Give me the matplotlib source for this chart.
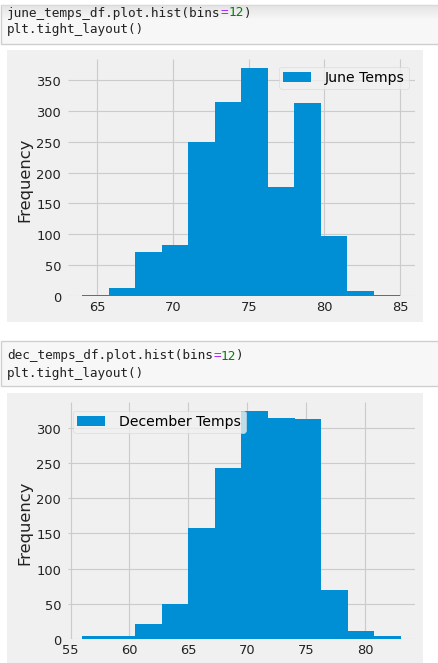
import matplotlib
matplotlib.use("Agg")
import matplotlib.pyplot as plt
from matplotlib.patches import Rectangle
from matplotlib.transforms import ScaledTranslation
import numpy as np

plt.style.use("fivethirtyeight")

W, H = 439, 663

june_start, june_width = 64.0, 1.75
june_counts = [2, 13, 71, 82, 249, 314, 370, 177, 312, 97, 8, 2]
june_ticks = [65, 70, 75, 80, 85]
june_yticks = [0, 50, 100, 150, 200, 250, 300, 350]

dec_start, dec_width = 56.0, 2.25
dec_counts = [4, 4, 22, 50, 158, 243, 323, 313, 312, 70, 12, 4]
dec_ticks = [55, 60, 65, 70, 75, 80]
dec_yticks = [0, 50, 100, 150, 200, 250, 300]

june_code = [[("june_temps_df.plot.hist(bins", "#222222"), ("=", "#aa22ff"), ("12", "#008000"), (")", "#222222")],
             [("plt.tight_layout()", "#222222")]]
dec_code = [[("dec_temps_df.plot.hist(bins", "#222222"), ("=", "#aa22ff"), ("12", "#008000"), (")", "#222222")],
            [("plt.tight_layout()", "#222222")]]

fig = plt.figure(figsize=(W / 100, H / 100), dpi=100, facecolor="white")

bg = fig.add_axes([0, 0, 1, 1])
bg.set_xlim(0, W)
bg.set_ylim(H, 0)
bg.axis("off")
bg.set_facecolor("white")

# notebook cells
for top, bot in [(5, 44), (341, 386)]:
    bg.add_patch(Rectangle((1.5, top), W, bot - top, fc="#f7f7f7", ec="#cfcfcf", lw=1))
# scroll shadow at the top of the notebook
for i in range(14):
    bg.add_patch(Rectangle((2, 5 + i), W, 1, fc="#dedede", alpha=0.75 * (1 - i / 14), ec="none"))

# output panels
bg.add_patch(Rectangle((7, 50), 416, 272, fc="#f0f0f0", ec="none"))
bg.add_patch(Rectangle((7, 393), 416, 270, fc="#f0f0f0", ec="none"))


def code(lines, y0):
    cw = 7.64
    for j, toks in enumerate(lines):
        x = 7
        for s, c in toks:
            bg.text(x, y0 + j * 17, s, color=c, family="DejaVu Sans Mono", fontsize=9.15,
                    va="center", ha="left")
            x += len(s) * cw


code(june_code, 13)
code(dec_code, 356)


def panel(counts, start, width, xticks, yticks, xlim, ylim, box, label, legend_px, ylabel_y):
    l, t, r, b = box
    ax = fig.add_axes([l / W, 1 - b / H, (r - l) / W, (b - t) / H])
    ax.patch.set_alpha(0)
    edges = start + width * np.arange(len(counts) + 1)
    ax.bar(edges[:-1], counts, width=width, align="edge", color="#008fd5", label=label, lw=0, zorder=2)
    ax.set_xlim(*xlim)
    ax.set_ylim(*ylim)
    ax.set_xticks(xticks)
    ax.set_yticks(yticks)
    ax.grid(True, color="#cbcbcb", lw=0.8)
    ax.set_axisbelow(True)
    ax.tick_params(labelsize=9.4, length=0, colors="#222222")
    ax.tick_params(axis="x", pad=3.5)
    ax.tick_params(axis="y", pad=5)
    down = ScaledTranslation(0, -1 / 100, fig.dpi_scale_trans)
    for lab in ax.get_yticklabels():
        lab.set_transform(lab.get_transform() + down)
    for s in ax.spines.values():
        s.set_visible(False)
    ax.set_ylabel("Frequency", fontsize=11.8, color="#222222")
    ax.yaxis.set_label_coords(32 / W, 1 - ylabel_y / H, transform=fig.transFigure)
    x0, y0, x1, y1 = legend_px
    leg = ax.legend(loc="lower left", bbox_to_anchor=(x0 / W, 1 - y1 / H, (x1 - x0) / W, (y1 - y0) / H),
                    bbox_transform=fig.transFigure, mode="expand", fontsize=10.1, frameon=True, framealpha=0.8,
                    borderaxespad=0, borderpad=0.3, handlelength=2.0, handletextpad=0.95)
    leg.get_frame().set_edgecolor("#d8d8d8")
    return ax


# pixel scales: june 15.13 px/deg, dec 11.78 px/deg
panel(june_counts, june_start, june_width, june_ticks, june_yticks,
      (65 - (97.4 - 68) / 15.13, 85 + (415 - 400.2) / 15.13), (0, (296 - 59) / 0.617),
      (68, 59, 415, 296), "June Temps", (279, 64, 409, 89), 180)
panel(dec_counts, dec_start, dec_width, dec_ticks, dec_yticks,
      (55 - (70.5 - 68) / 11.78, 80 + (415 - 365.3) / 11.78), (0, (639 - 402) / 0.7045),
      (68, 402, 415, 639), "December Temps", (73, 407, 246, 433), 522.5)

fig.savefig("out.png", dpi=100, facecolor="white")
